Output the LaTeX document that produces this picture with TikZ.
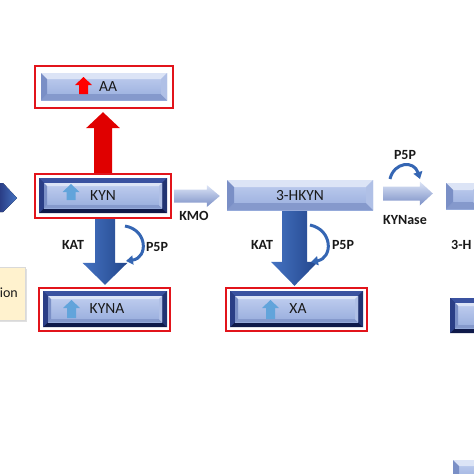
\documentclass[tikz,border=0pt]{standalone}
\usepackage{fontspec}
\setmainfont{Carlito}
\usetikzlibrary{calc,backgrounds,arrows.meta}
\definecolor{frameRed}{HTML}{E2141B}
\definecolor{navy}{HTML}{1C2B68}
\definecolor{navyTop}{HTML}{3A52A0}
\definecolor{navyLeft}{HTML}{2A3E86}
\definecolor{navyBot}{HTML}{0F1A4A}
\definecolor{navyRight}{HTML}{223472}
\definecolor{lbTop}{HTML}{C0CEEF}
\definecolor{lbBot}{HTML}{98ADDD}
\definecolor{bvTop}{HTML}{DCE4F6}
\definecolor{bvLeft}{HTML}{7A8FC6}
\definecolor{bvBot}{HTML}{8599CC}
\definecolor{bvRight}{HTML}{B0C0E6}
\definecolor{katL}{HTML}{4573C2}
\definecolor{katR}{HTML}{23468C}
\definecolor{curveBlue}{HTML}{3566B3}
\definecolor{upBlue}{HTML}{62A4DB}
\definecolor{beige}{HTML}{FFF2CE}
\definecolor{redL}{HTML}{E00000}
\definecolor{redM}{HTML}{FF2424}
\newcommand\lbox[5]{%
 \shade[top color=lbTop,bottom color=lbBot] (#1,#2) rectangle (#3,#4);
 \fill[bvTop] (#1,#2) -- (#3,#2) -- ({#3-#5},{#2+#5}) -- ({#1+#5},{#2+#5}) -- cycle;
 \fill[bvBot] (#1,#4) -- (#3,#4) -- ({#3-#5},{#4-#5}) -- ({#1+#5},{#4-#5}) -- cycle;
 \fill[bvLeft] (#1,#2) -- ({#1+#5},{#2+#5}) -- ({#1+#5},{#4-#5}) -- (#1,#4) -- cycle;
 \fill[bvRight] (#3,#2) -- ({#3-#5},{#2+#5}) -- ({#3-#5},{#4-#5}) -- (#3,#4) -- cycle;}
\newcommand\dbox[4]{%
 \fill[navy] (#1,#2) rectangle (#3,#4);
 \fill[navyTop] (#1,#2) -- (#3,#2) -- ({#3-5},{#2+5}) -- ({#1+5},{#2+5}) -- cycle;
 \fill[navyBot] (#1,#4) -- (#3,#4) -- ({#3-5},{#4-5}) -- ({#1+5},{#4-5}) -- cycle;
 \fill[navyLeft] (#1,#2) -- ({#1+5},{#2+5}) -- ({#1+5},{#4-5}) -- (#1,#4) -- cycle;
 \fill[navyRight] (#3,#2) -- ({#3-5},{#2+5}) -- ({#3-5},{#4-5}) -- (#3,#4) -- cycle;
 \lbox{#1+5}{#2+5}{#3-5}{#4-5}{3}}
\newcommand\smallup[4]{% cx ytop ybot color
 \fill[#4] ({#1-4.5},#3) -- ({#1-4.5},{#2+8}) -- ({#1-8.5},{#2+8}) -- (#1,#2) -- ({#1+8.5},{#2+8}) -- ({#1+4.5},{#2+8}) -- ({#1+4.5},#3) -- cycle;}
% vertical block arrow between two points (canvas dims)
\newcommand\varrow[6]{%
 \path[#1] let \p1=(#2), \p2=(#3) in
  ({\x1-#4},\y1) -- ({\x1+#4},\y1) -- ({\x1+#4},{\y2+(#6)}) -- ({\x1+#5},{\y2+(#6)}) -- (\x1,\y2) -- ({\x1-#5},{\y2+(#6)}) -- ({\x1-#4},{\y2+(#6)}) -- cycle;}
\newcommand\harrow[6]{%
 \path[#1] let \p1=(#2), \p2=(#3) in
  (\x1,{\y1+#4}) -- (\x1,{\y1-#4}) -- ({\x2-#6},{\y1-#4}) -- ({\x2-#6},{\y1-#5}) -- (\x2,\y1) -- ({\x2-#6},{\y1+#5}) -- ({\x2-#6},{\y1+#4}) -- cycle;}
\tikzset{
 frame/.style={draw=frameRed, line width=2.4pt, fill=white, inner sep=0pt},
 btext/.style={inner sep=0pt, font=\fontsize{15.5}{18}\selectfont, text=black!90},
 lab/.style={inner sep=0pt, font=\fontsize{14}{16}\selectfont\bfseries, text=black!90},
 curve/.style={draw=curveBlue, line width=3pt, -{Triangle[length=7pt,width=9pt]}},
 katarrow/.style={left color=katL, right color=katR},
 redarrow/.style={left color=redL, middle color=redM, right color=redL},
 lightarrow/.style={top color=bvTop, bottom color=bvLeft}
}
\begin{document}
\begin{tikzpicture}[x=1pt,y=-1pt]
\useasboundingbox (0,0) rectangle (474,474);
\clip (0,0) rectangle (474,474);
% frames
\node[frame, minimum width=138pt, minimum height=42pt] (aaF) at (104,87) {};
\node[frame, minimum width=136pt, minimum height=44pt] (kynF) at (103,196) {};
\node[frame, minimum width=131pt, minimum height=43pt] (kynaF) at (104.5,309.5) {};
\node[frame, minimum width=141pt, minimum height=43pt] (xaF) at (296.5,309.5) {};
% boxes
\lbox{41}{73}{167}{100}{6}
\dbox{39}{178}{167}{213}
\dbox{43}{291}{167}{327}
\dbox{230}{291}{363}{327}
\lbox{227}{180}{373}{210}{7}
\lbox{446}{183}{480}{209}{7}
\dbox{450}{298}{485}{333}
\lbox{453}{460}{485}{485}{6}
% beige box
\fill[black!12] (-5,269) rectangle (27,322);
\fill[beige] (-5,267) rectangle (25,320);
\draw[black!15] (-5,267) rectangle (25,320);
\node[btext, font=\fontsize{14}{16}\selectfont, anchor=east] (inf) at (18,293) {ion};
% small up arrows
\smallup{83.5}{77}{94}{red}
\smallup{71}{184}{200}{upBlue}
\smallup{71.5}{300}{318}{upBlue}
\smallup{270.5}{300}{319}{upBlue}
% texts
\node[btext, minimum width=126pt, minimum height=27pt] (aa) at (104,87) {\hspace*{8pt}AA};
\node[btext, minimum width=128pt, minimum height=35pt] (kyn) at (103,195.5) {KYN};
\node[btext, minimum width=124pt, minimum height=36pt] (kyna) at (107,309) {KYNA};
\node[btext, minimum width=133pt, minimum height=36pt] (xa) at (298,309) {XA};
\node[btext, minimum width=146pt, minimum height=30pt] (hkyn) at (300,195.5) {3-HKYN};
\node[inner sep=0pt, minimum width=34pt, minimum height=26pt] (rbox) at (463,196) {};
% left incoming arrowhead
\fill[left color=navyLeft, right color=katL] (0,183) -- (3,183) -- (17,198) -- (3,212) -- (0,212) -- cycle;
% block arrows (behind frames)
\begin{scope}[on background layer]
\varrow{redarrow}{$(kynF.north)+(0,4)$}{$(aaF.south)+(0,3)$}{9pt}{17pt}{-16pt}
\varrow{katarrow}{$(kynF.south)+(2,-2)$}{$(kynaF.north)+(1,-2)$}{10pt}{22.5pt}{22pt}
\varrow{katarrow}{$(hkyn.south)+(-5.5,0)$}{$(xaF.north)+(-2,-1)$}{12.5pt}{23.5pt}{24pt}
\end{scope}
\harrow{lightarrow}{$(kynF.east)+(2,0)$}{$(hkyn.west)+(-7,0)$}{6.5pt}{11pt}{13pt}
\harrow{lightarrow}{$(hkyn.east)+(10,-2)$}{$(rbox.west)+(-13,-3)$}{7pt}{12pt}{13pt}
% cofactor curves
\draw[curve] (125,226) .. controls (148,230) and (148,258) .. (126,261);
\draw[curve] (310,225) .. controls (333,230) and (333,258) .. (311,262);
\draw[curve] (390,179) .. controls (394,162) and (414,160) .. (420,179);
% labels
\node[lab] (kmo) at (194,216) {KMO};
\node[lab] (kat1) at (73,245) {KAT};
\node[lab] (p5p1) at (157,247) {P5P};
\node[lab] (kat2) at (262,245) {KAT};
\node[lab] (p5p2) at (343,245) {P5P};
\node[lab] (p5p3) at (405,155) {P5P};
\node[lab] (kynase) at (405,220) {KYNase};
\node[lab, anchor=west] (hx) at (451,245) {3-H};
\end{tikzpicture}
\end{document}
